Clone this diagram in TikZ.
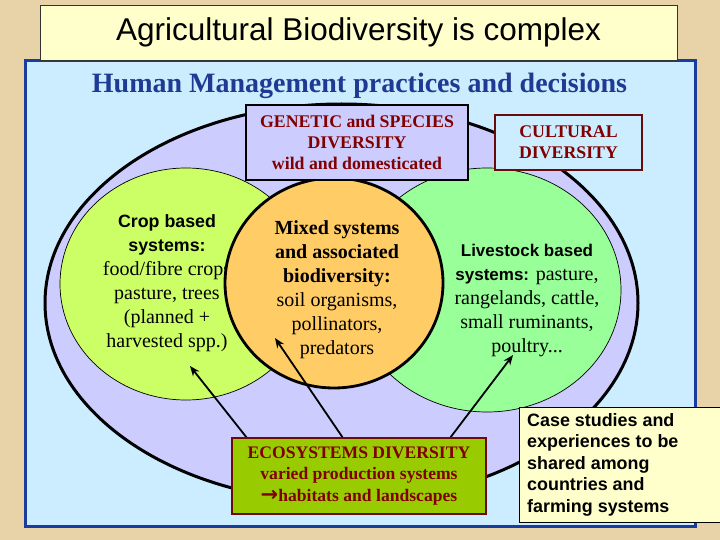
\documentclass[tikz,border=0pt]{standalone}
\usepackage{fontspec}
\setmainfont{Liberation Serif}
\setsansfont{Liberation Sans}
\newfontfamily\arrowfont{DejaVu Sans}
\usetikzlibrary{arrows.meta,calc,shapes.geometric}
\definecolor{parch}{HTML}{E8D3A9}
\definecolor{titlefill}{HTML}{FFFFCC}
\definecolor{panelfill}{HTML}{CCECFF}
\definecolor{paneldraw}{HTML}{1A3C9E}
\definecolor{humanblue}{HTML}{1F3A93}
\definecolor{lav}{HTML}{CCCCFF}
\definecolor{cropg}{HTML}{CCFF66}
\definecolor{liveg}{HTML}{99FF99}
\definecolor{orng}{HTML}{FFCC66}
\definecolor{olive}{HTML}{99CC00}
\definecolor{dred}{HTML}{800000}
\definecolor{dredline}{HTML}{6B0A0A}
\newcommand{\sansbold}[1]{{\sffamily\bfseries\fontsize{17.8}{24}\selectfont #1}}
\tikzset{
  boxbase/.style={rectangle, inner sep=0pt, outer sep=0pt},
  ovalbase/.style={ellipse, inner sep=0pt, outer sep=0pt},
  thinoval/.style={ovalbase, draw=black, line width=0.7pt},
  redtext/.style={text=dred, font=\bfseries\fontsize{17.8}{21}\selectfont, align=center},
  circtext/.style={font=\fontsize{20}{24}\selectfont, align=center, inner sep=0pt},
  linkarrow/.style={draw=black, line width=1.8pt, -{Stealth[length=10pt,width=8pt]}},
}
\begin{document}
\begin{tikzpicture}[x=1pt,y=-1pt]
\fill[parch] (0,0) rectangle (720,540);
\useasboundingbox (0,0) rectangle (720,540);

% blue panel
\node[boxbase, fill=panelfill, draw=paneldraw, line width=3pt,
      minimum width=670, minimum height=465] (panel) at (360,293.5) {};
% title
\node[boxbase, fill=titlefill, draw=black!80, line width=0.8pt,
      minimum width=637, minimum height=55,
      font=\sffamily\fontsize{31.5}{36}\selectfont] (title) at (358.5,32.5)
      {Agricultural Biodiversity is complex};
\node[text=humanblue, font=\bfseries\fontsize{28}{32}\selectfont, inner sep=0pt]
      (human) at (359.5,86) {Human Management practices and decisions};

% big ellipse
\node[ovalbase, fill=lav, draw=black, line width=3pt,
      minimum width=593, minimum height=398] (big) at (341.5,303) {};

% crop
\node[thinoval, fill=cropg, minimum width=252, minimum height=232] (crop) at (186,284) {};
\node[circtext] (croptext) at (167,283)
  {\sansbold{Crop based}\\\sansbold{systems:}\\food/fibre crops\\pasture, trees\\(planned +\\harvested spp.)};

% livestock
\node[thinoval, fill=liveg, minimum width=268, minimum height=244] (live) at (487,290) {};
\node[circtext] (livetext) at (527,300)
  {{\sffamily\bfseries\fontsize{17}{24}\selectfont Livestock based}\\{\sffamily\bfseries\fontsize{17}{24}\selectfont systems:} pasture,\\rangelands, cattle,\\small ruminants,\\poultry...};

% mixed
\node[ovalbase, fill=orng, draw=black, line width=2.8pt,
      minimum width=218, minimum height=210] (mixed) at (334,283) {};
\node[circtext] (mixedtext) at (337,290)
  {\textbf{Mixed systems}\\\textbf{and associated}\\\textbf{biodiversity:}\\soil organisms,\\pollinators,\\predators};

% genetic and cultural boxes
\node[boxbase, fill=lav, draw=black, line width=2.8pt,
      minimum width=222, minimum height=75, redtext] (genetic) at (357,142.5)
  {GENETIC and SPECIES\\DIVERSITY\\wild and domesticated};
\node[boxbase, fill=panelfill, draw=dredline, line width=2.8pt,
      minimum width=147, minimum height=55, redtext] (cultural) at (568.5,142.5)
  {CULTURAL\\DIVERSITY};

% arrows
\coordinate (tipcrop) at (190,366);
\coordinate (tipmixed) at (275,338);
\coordinate (tiplive) at (513,355);
\node[boxbase, minimum width=254, minimum height=76] (ecoframe) at (359,476) {};
\draw[linkarrow] ($(ecoframe.north west)+(15,0)$) -- (tipcrop);
\draw[linkarrow] ($(ecoframe.north west)+(111,0)$) -- (tipmixed);
\draw[linkarrow] ($(ecoframe.north west)+(218,0)$) -- (tiplive);

% ecosystems box
\node[boxbase, fill=olive, draw=dredline, line width=2.8pt,
      minimum width=254, minimum height=76, redtext,
      font=\bfseries\fontsize{17.6}{21.5}\selectfont] (eco) at (359,476)
  {ECOSYSTEMS DIVERSITY\\varied production systems\\{\arrowfont\bfseries\fontsize{21}{21.5}\selectfont →}habitats and landscapes};

% case studies box
\node[boxbase, fill=titlefill, draw=black, line width=0.8pt,
      minimum width=201, minimum height=115] (case) at (619.5,464.5) {};
\node[anchor=west, inner sep=0pt, align=left,
      font=\sffamily\bfseries\fontsize{17.9}{21.5}\selectfont] (casetext) at (527,464.5)
  {Case studies and\\experiences to be\\shared among\\countries and\\farming systems};
\end{tikzpicture}
\end{document}
